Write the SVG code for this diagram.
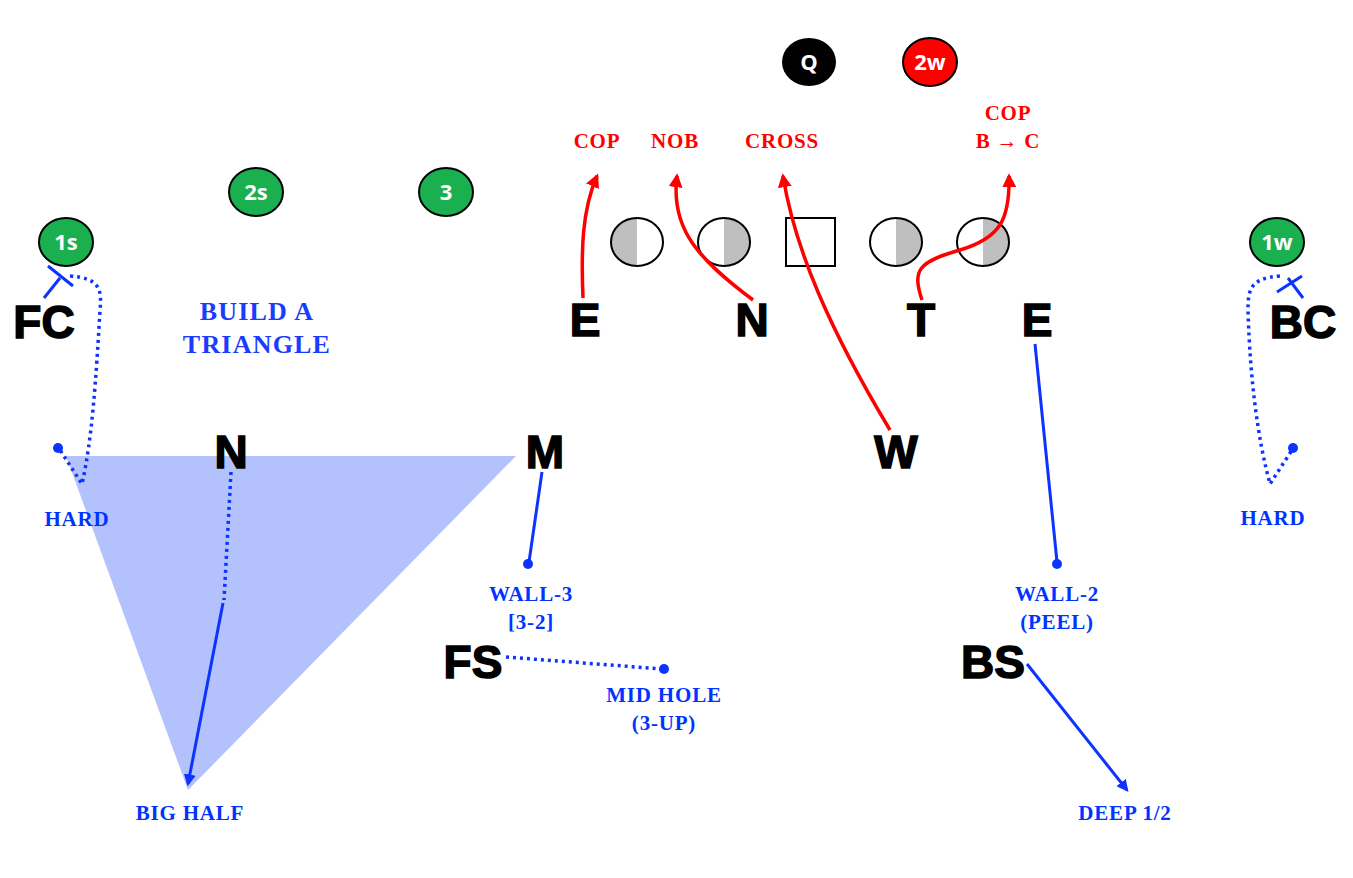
<svg xmlns="http://www.w3.org/2000/svg" width="1353" height="878" viewBox="0 0 1353 878">
<style>
.big{font-family:"Liberation Sans",Arial,sans-serif;font-weight:bold;font-size:46px;fill:#000;stroke:#000;stroke-width:1.5;text-anchor:middle}
.lb{font-family:"Liberation Serif","Times New Roman",serif;font-weight:bold;font-size:21px;letter-spacing:0.8px;fill:#0033ff;text-anchor:middle}
.lbb{font-family:"Liberation Serif","Times New Roman",serif;font-weight:bold;font-size:26px;letter-spacing:1.2px;fill:#1a3cff;text-anchor:middle}
.lr{font-family:"Liberation Serif","Times New Roman",serif;font-weight:bold;font-size:21px;letter-spacing:0.8px;fill:#ff0000;text-anchor:middle}
.ct{font-family:"Open Sans","Liberation Sans",sans-serif;font-weight:bold;font-size:22px;fill:#fff;text-anchor:middle}
.g{fill:#1aaf4f;stroke:#000;stroke-width:2}
.ol{stroke:#000;stroke-width:2}
.red{fill:none;stroke:#ff0000;stroke-width:3.5}
.bl{fill:none;stroke:#0d33ff;stroke-width:3}
.dot{fill:none;stroke:#0d33ff;stroke-width:3.5;stroke-dasharray:3 4}
</style>
<defs>
<marker id="ar" viewBox="0 0 10 10" refX="8" refY="5" markerWidth="4" markerHeight="4" orient="auto"><path d="M0,0L10,5L0,10z" fill="#ff0000"/></marker>
<marker id="ab" viewBox="0 0 10 10" refX="8" refY="5" markerWidth="4" markerHeight="4" orient="auto"><path d="M0,0L10,5L0,10z" fill="#0d33ff"/></marker>
</defs>
<polygon points="66,456 516,456 188,790" fill="#b3c1fd"/>
<g id="offense">
<g id="q"><ellipse cx="809" cy="62" rx="27" ry="24" fill="#000"/><text class="ct" x="809" y="70">Q</text></g>
<g id="w2"><ellipse cx="930" cy="62" rx="27" ry="24" fill="#f00" stroke="#000" stroke-width="2"/><text class="ct" x="930" y="70">2w</text></g>
<g id="s2"><ellipse class="g" cx="256" cy="192" rx="27" ry="24"/><text class="ct" x="256" y="200">2s</text></g>
<g id="r3"><ellipse class="g" cx="446" cy="192" rx="27" ry="24"/><text class="ct" x="446" y="200">3</text></g>
<g id="s1"><ellipse class="g" cx="66" cy="242" rx="27" ry="24"/><text class="ct" x="66" y="250">1s</text></g>
<g id="w1"><ellipse class="g" cx="1277" cy="242" rx="27" ry="24"/><text class="ct" x="1277" y="250">1w</text></g>
<g id="ol1"><path d="M637,218a26,24 0 0 0 0,48z" fill="#bfbfbf"/><ellipse class="ol" cx="637" cy="242" rx="26" ry="24" fill="none"/></g>
<g id="ol2"><path d="M724,218a26,24 0 0 1 0,48z" fill="#bfbfbf"/><ellipse class="ol" cx="724" cy="242" rx="26" ry="24" fill="none"/></g>
<g id="c"><rect class="ol" x="786" y="218" width="49" height="48" fill="#fff"/></g>
<g id="ol4"><path d="M896,218a26,24 0 0 1 0,48z" fill="#bfbfbf"/><ellipse class="ol" cx="896" cy="242" rx="26" ry="24" fill="none"/></g>
<g id="ol5"><path d="M983,218a26,24 0 0 1 0,48z" fill="#bfbfbf"/><ellipse class="ol" cx="983" cy="242" rx="26" ry="24" fill="none"/></g>
</g>
<g id="connectors">
<path class="red" d="M583,298C581,250 582,210 597,176" marker-end="url(#ar)"/>
<path class="red" d="M753,300C700,260 670,230 677,176" marker-end="url(#ar)"/>
<path class="red" d="M890,430C830,330 795,250 783,176" marker-end="url(#ar)"/>
<path class="red" d="M922,300C912,270 918,262 960,250C1000,238 1010,220 1009,176" marker-end="url(#ar)"/>
<path class="bl" d="M44,298L60,278M48,266L73,286"/>
<path class="dot" d="M70,276C100,278 102,290 100,310C96,380 92,440 82,484L60,450"/>
<circle cx="58" cy="448" r="5" fill="#0d33ff"/>
<path class="bl" d="M1303,298L1288,278M1302,276L1277,292"/>
<path class="dot" d="M1280,276C1250,278 1248,290 1248,310C1250,380 1258,440 1270,484L1292,450"/>
<circle cx="1293" cy="448" r="5" fill="#0d33ff"/>
<path class="dot" d="M231,472L224,600"/>
<path class="bl" d="M223,603L188,784" marker-end="url(#ab)"/>
<path class="bl" d="M542,472L529,562"/><circle cx="528" cy="564" r="5" fill="#0d33ff"/>
<path class="bl" d="M1035,344L1057,562"/><circle cx="1057" cy="564" r="5" fill="#0d33ff"/>
<path class="dot" d="M506,657L662,669"/><circle cx="664" cy="669" r="5" fill="#0d33ff"/>
<path class="bl" d="M1027,664L1127,790" marker-end="url(#ab)"/>
</g>
<g id="defense">
<text class="big" x="44" y="338">FC</text>
<text class="big" x="585" y="336">E</text>
<text class="big" x="752" y="336">N</text>
<text class="big" x="921" y="336">T</text>
<text class="big" x="1037" y="336">E</text>
<text class="big" x="1303" y="338">BC</text>
<text class="big" x="231" y="468">N</text>
<text class="big" x="545" y="468">M</text>
<text class="big" x="896" y="468">W</text>
<text class="big" x="473" y="678">FS</text>
<text class="big" x="993" y="678">BS</text>
</g>
<g id="labels">
<text class="lr" x="597" y="148">COP</text>
<text class="lr" x="675" y="148">NOB</text>
<text class="lr" x="782" y="148">CROSS</text>
<text class="lr" x="1008" y="120">COP</text>
<text class="lr" x="1008" y="148">B → C</text>
<text class="lbb" x="257" y="320">BUILD A</text>
<text class="lbb" x="257" y="353">TRIANGLE</text>
<text class="lb" x="77" y="526">HARD</text>
<text class="lb" x="1273" y="525">HARD</text>
<text class="lb" x="531" y="601">WALL-3</text>
<text class="lb" x="531" y="629">[3-2]</text>
<text class="lb" x="1057" y="601">WALL-2</text>
<text class="lb" x="1057" y="629">(PEEL)</text>
<text class="lb" x="664" y="702">MID HOLE</text>
<text class="lb" x="664" y="730">(3-UP)</text>
<text class="lb" x="190" y="820">BIG HALF</text>
<text class="lb" x="1125" y="820">DEEP 1/2</text>
</g>
</svg>
